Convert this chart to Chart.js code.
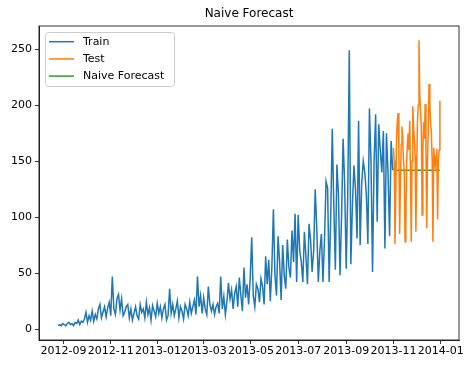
<!DOCTYPE html>
<html>
<head>
<meta charset="utf-8">
<script src="https://cdn.jsdelivr.net/npm/chart.js@4.4.1/dist/chart.umd.min.js"></script>
<style>
  html, body { margin: 0; padding: 0; background: #fff; }
  #wrap { width: 474px; height: 367px; }
</style>
</head>
<body>
<div id="wrap"><canvas id="chart" width="474" height="367"></canvas></div>
<script>
// x tick labels (month starts) and y ticks
const tickLabels = ['2012-09', '2012-11', '2013-01', '2013-03', '2013-05', '2013-07', '2013-09', '2013-11', '2014-01'];
const yTickValues = [0, 50, 100, 150, 200, 250];

// train: one value every 2 days from trainStart
const trainStart = '2012-08-25';
const trainStep = 2;
const trainValues = [
    3, 4, 3, 5, 4, 3, 5, 6, 4, 5, 3, 6, 5, 8, 4, 7, 6, 9, 15, 6, 12, 8, 16, 7, 13,
    9, 18, 22, 10, 15, 20, 11, 19, 24, 12, 47, 18, 13, 27, 31, 17, 27, 12, 15, 20, 22, 10,
    18, 8, 14, 20, 12, 9, 22, 15, 18, 10, 24, 13, 19, 8, 21, 16, 11, 23, 14, 20, 10, 18, 22, 8, 12, 36,
    14, 22, 12, 18, 25, 10, 20, 16, 9, 22, 18, 12, 24, 14, 20, 26, 13, 47, 20, 30, 14, 28, 18, 13, 38, 22, 16,
    22, 13, 20, 23, 14, 47, 18, 29, 13, 25, 41, 27, 35, 18, 32, 38, 20, 46, 30, 16, 55, 28, 40,
    22, 45, 82, 30, 20, 40, 36, 24, 45, 38, 22, 65, 40, 62, 25, 55, 107, 48, 30, 83,
    60, 26, 75, 48, 36, 80, 55, 46, 88, 60, 103,
    42, 102, 70, 60, 42, 87, 65, 40, 94, 80, 51, 70, 125, 90, 42,
    70, 85, 42, 80, 132, 126, 42, 100, 179, 110, 53, 147, 120, 48, 100,
    170, 130, 54, 120, 249, 58, 110, 146, 125, 81, 186, 75, 130, 150, 140,
    120, 76, 197, 150, 51, 150, 192, 96, 183, 160, 140, 177, 72, 175, 140,
    83, 168, 142
];

// test: daily from testStart
const testStart = '2013-11-01';
const testStep = 1;
const testValues = [
    162, 150, 76, 120, 170, 185, 193, 160, 85, 130,
    165, 181, 170, 150, 140, 78, 95, 150, 165, 175,
    160, 186, 140, 78, 150, 199, 180, 170, 155, 87,
    140, 185, 200, 258, 208, 195, 180, 102, 160, 185,
    170, 201, 160, 90, 150, 180, 219, 200, 185, 175,
    150, 78, 162, 150, 145, 155, 161, 98, 150, 160,
    204
];

// naive forecast = last train value held over the test period
const naiveDates = ['2013-11-01', '2013-12-31'];
const naiveValues = [142, 142];

function dayOf(s) {
    const [y, m, d] = s.split('-').map(Number);
    return (Date.UTC(y, m - 1, d) - Date.UTC(2012, 8, 1)) / 864e5;
}

function series(start, step, values) {
    const d0 = dayOf(start);
    return values.map((v, i) => ({ x: d0 + i * step, y: v }));
}

const trainData = series(trainStart, trainStep, trainValues);
const testData = series(testStart, testStep, testValues);
const naiveData = naiveDates.map((d, i) => ({ x: dayOf(d), y: naiveValues[i] }));
const tickDays = tickLabels.map(l => dayOf(l + '-01'));

// matplotlib style 5% margins
const allPts = trainData.concat(testData, naiveData);
const xs = allPts.map(p => p.x), ys = allPts.map(p => p.y);
const xMin = Math.min(...xs), xMax = Math.max(...xs);
const yMin = Math.min(...ys), yMax = Math.max(...ys);
const xPad = (xMax - xMin) * 0.05, yPad = (yMax - yMin) * 0.05;

Chart.defaults.font.family = 'DejaVu Sans';
Chart.defaults.color = '#000';

const framePlugin = {
    id: 'frame',
    afterDraw(chart) {
        const { ctx, chartArea: a } = chart;
        ctx.save();
        ctx.strokeStyle = '#000';
        ctx.lineWidth = 0.8;
        ctx.strokeRect(a.left, a.top, a.right - a.left, a.bottom - a.top);

        // title, centred over the axes
        ctx.fillStyle = '#000';
        ctx.font = '12px DejaVu Sans';
        ctx.textAlign = 'center';
        ctx.textBaseline = 'middle';
        ctx.fillText('Naive Forecast', (a.left + a.right) / 2, 14);

        // legend box, upper left
        ctx.beginPath();
        ctx.roundRect(45.5, 32.5, 129, 54, 3);
        ctx.fillStyle = 'rgba(255,255,255,0.8)';
        ctx.fill();
        ctx.strokeStyle = '#cccccc';
        ctx.lineWidth = 1;
        ctx.stroke();
        ctx.font = '11px DejaVu Sans';
        ctx.textAlign = 'left';
        chart.data.datasets.forEach((ds, i) => {
            const y = 41.7 + i * 17.2;
            ctx.beginPath();
            ctx.moveTo(49, y);
            ctx.lineTo(74, y);
            ctx.strokeStyle = ds.borderColor;
            ctx.lineWidth = 1.5;
            ctx.stroke();
            ctx.fillStyle = '#000';
            ctx.fillText(ds.label, 83, y);
        });
        ctx.restore();
    }
};

new Chart(document.getElementById('chart').getContext('2d'), {
    type: 'line',
    data: {
        datasets: [
            { label: 'Train', data: trainData, borderColor: '#1f77b4' },
            { label: 'Test', data: testData, borderColor: '#ff7f0e' },
            { label: 'Naive Forecast', data: naiveData, borderColor: '#2ca02c' }
        ]
    },
    options: {
        responsive: false,
        animation: false,
        elements: {
            point: { radius: 0 },
            line: { borderWidth: 1.5, tension: 0, fill: false }
        },
        layout: { padding: { top: 26, right: 15, left: 0, bottom: 0 } },
        plugins: {
            legend: { display: false },
            title: { display: false },
            tooltip: { enabled: false }
        },
        scales: {
            x: {
                type: 'linear',
                min: xMin - xPad,
                max: xMax + xPad,
                afterBuildTicks: scale => { scale.ticks = tickDays.map(v => ({ value: v })); },
                afterFit: scale => { scale.height = 27; },
                ticks: {
                    autoSkip: false,
                    maxRotation: 0,
                    padding: 1,
                    font: { size: 11 },
                    callback: value => tickLabels[tickDays.indexOf(value)]
                },
                grid: { drawOnChartArea: false, drawTicks: true, tickLength: 4, color: '#000', lineWidth: 0.8 },
                border: { display: true, color: '#000', width: 0.8 }
            },
            y: {
                type: 'linear',
                min: yMin - yPad,
                max: yMax + yPad,
                afterBuildTicks: scale => { scale.ticks = yTickValues.map(v => ({ value: v })); },
                afterFit: scale => { scale.width = 39; },
                ticks: { padding: 3, font: { size: 11 } },
                grid: { drawOnChartArea: false, drawTicks: true, tickLength: 4, color: '#000', lineWidth: 0.8 },
                border: { display: true, color: '#000', width: 0.8 }
            }
        }
    },
    plugins: [framePlugin]
});
</script>
</body>
</html>
